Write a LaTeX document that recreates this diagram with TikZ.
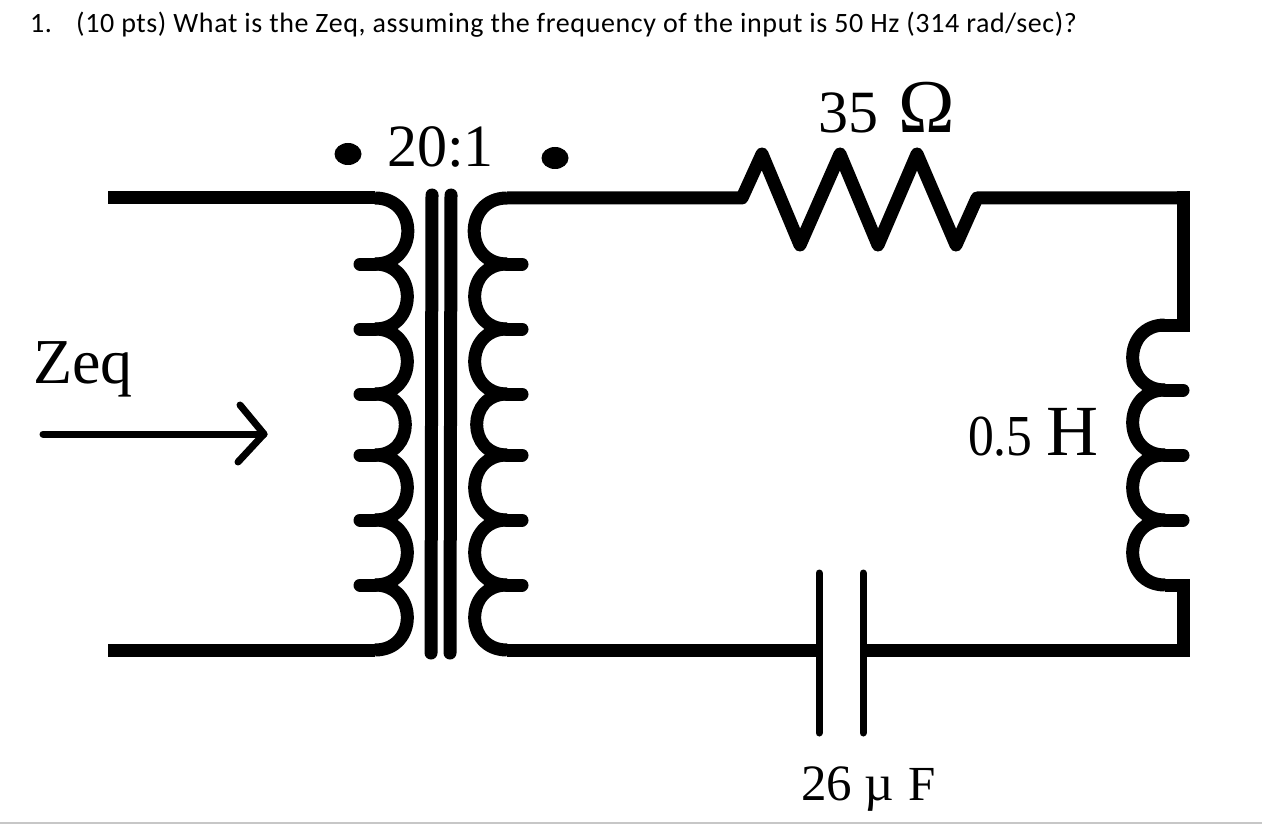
\documentclass[tikz,border=0pt]{standalone}
\usepackage{fontspec}
\setmainfont{Liberation Serif}
\newfontfamily\titlefont[LetterSpace=2.2]{Carlito}
\usetikzlibrary{shapes.geometric}
\tikzset{
	wire/.style={line width=13pt},
	tip/.style={line width=13pt, line cap=round},
	bump/.style={out=0, in=0, looseness=1.7},
	rbump/.style={out=180, in=180, looseness=1.7},
	plate/.style={line width=7pt, line cap=round},
	core/.style={line width=13pt, line cap=round},
	pointer/.style={line width=7pt, line cap=round},
	dotmark/.style={ellipse, fill=black, inner sep=0pt, minimum width=27pt, minimum height=22pt},
	label/.style={inner sep=0pt, anchor=base west},
	titletext/.style={inner sep=0pt, anchor=base west, font=\titlefont\fontsize{28}{30}\selectfont}
}

\begin{document}
\begin{tikzpicture}[x=1pt, y=1pt]
	\useasboundingbox (0, -824) rectangle (1262, 0);

	% points of the left coil
	\coordinate (P0) at (375, -198);
	\coordinate (P1) at (375, -264);
	\coordinate (P2) at (375, -329);
	\coordinate (P3) at (375, -394);
	\coordinate (P4) at (375, -455);
	\coordinate (P5) at (375, -520);
	\coordinate (P6) at (375, -585);
	\coordinate (P7) at (375, -650);

	% points of the right coil
	\coordinate (S0) at (507, -198);
	\coordinate (S1) at (507, -264);
	\coordinate (S2) at (507, -329);
	\coordinate (S3) at (507, -394);
	\coordinate (S4) at (507, -455);
	\coordinate (S5) at (507, -520);
	\coordinate (S6) at (507, -585);
	\coordinate (S7) at (507, -650);

	% points of the load coil
	\coordinate (L0) at (1165, -325);
	\coordinate (L1) at (1165, -390);
	\coordinate (L2) at (1165, -455);
	\coordinate (L3) at (1165, -520);
	\coordinate (L4) at (1165, -585);

	% loose ends and corners
	\coordinate (inTop) at (108, -198);
	\coordinate (inBot) at (108, -650);
	\coordinate (cornerTop) at (1183, -198);
	\coordinate (cornerBot) at (1183, -650);
	\coordinate (capLeft) at (819, -650);
	\coordinate (capRight) at (863, -650);
	\coordinate (resIn) at (742, -198);
	\coordinate (resOut) at (977, -198);

	% left coil
	\draw[wire] (inTop) -- (P0);
	\draw[wire] (P0) to[bump] (P1);
	\draw[wire] (P1) to[bump] (P2);
	\draw[wire] (P2) to[bump] (P3);
	\draw[wire] (P3) to[bump] (P4);
	\draw[wire] (P4) to[bump] (P5);
	\draw[wire] (P5) to[bump] (P6);
	\draw[wire] (P6) to[bump] (P7);
	\draw[wire] (P7) -- (inBot);
	\draw[tip] (P1) -- ++(-15, 0);
	\draw[tip] (P2) -- ++(-15, 0);
	\draw[tip] (P3) -- ++(-15, 0);
	\draw[tip] (P4) -- ++(-15, 0);
	\draw[tip] (P5) -- ++(-15, 0);
	\draw[tip] (P6) -- ++(-15, 0);

	% iron core
	\draw[core] (432, -195) -- (431, -653);
	\draw[core] (451, -195) -- (450, -653);

	% right coil
	\draw[wire] (S0) to[rbump] (S1);
	\draw[wire] (S1) to[rbump] (S2);
	\draw[wire] (S2) to[rbump] (S3);
	\draw[wire] (S3) to[rbump] (S4);
	\draw[wire] (S4) to[rbump] (S5);
	\draw[wire] (S5) to[rbump] (S6);
	\draw[wire] (S6) to[rbump] (S7);
	\draw[tip] (S1) -- ++(15, 0);
	\draw[tip] (S2) -- ++(15, 0);
	\draw[tip] (S3) -- ++(15, 0);
	\draw[tip] (S4) -- ++(15, 0);
	\draw[tip] (S5) -- ++(15, 0);
	\draw[tip] (S6) -- ++(15, 0);

	% resistor and top wire
	\draw[wire, line join=round] (S0) -- (resIn) -- (762, -154) -- (800, -245) -- (840, -154)
		-- (878, -245) -- (917, -154) -- (956, -245) -- (resOut) -- (cornerTop);
	\draw[wire, line cap=rect] (cornerTop) -- (1183, -325) -- (L0);

	% load coil
	\draw[wire] (L0) to[rbump] (L1);
	\draw[wire] (L1) to[rbump] (L2);
	\draw[wire] (L2) to[rbump] (L3);
	\draw[wire] (L3) to[rbump] (L4);
	\draw[tip] (L1) -- ++(18, 0);
	\draw[tip] (L2) -- ++(18, 0);
	\draw[tip] (L3) -- ++(18, 0);
	\draw[wire] (L4) -- (1183, -585) -- (cornerBot) -- (capRight);
	\fill (1176.5, -578.5) rectangle (1189.5, -591.5);
	\fill (1176.5, -643.5) rectangle (1189.5, -656.5);
	\fill (1176.5, -191.5) rectangle (1189.5, -204.5);

	% capacitor
	\draw[wire] (S7) -- (capLeft);
	\draw[plate] (819, -573) -- (819, -733);
	\draw[plate] (863, -573) -- (863, -733);

	% arrow
	\coordinate (arrowA) at (43, -434);
	\coordinate (arrowB) at (264, -434);
	\draw[pointer] (arrowA) -- (arrowB);
	\draw[pointer, line join=round] (240, -405) -- (arrowB) -- (238, -462);

	% dots
	\node[dotmark] (dotA) at (348, -154) {};
	\node[dotmark] (dotB) at (555, -158) {};

	% labels
	\node[titletext] (num) at (30, -33) {1.};
	\node[titletext] (question) at (76, -33) {(10 pts) What is the Zeq, assuming the frequency of the input is 50 Hz (314 rad/sec)?};
	\node[label, font=\fontsize{60}{60}\selectfont] (ratio) at (387, -167) {20:1};
	\node[label, font=\fontsize{60}{60}\selectfont] (res) at (818, -133) {35};
	\node[label, font=\fontsize{76}{76}\selectfont] (ohm) at (898, -133) {Ω};
	\node[label, font=\fontsize{64}{64}\selectfont] (zeq) at (33, -383) {Zeq};
	\node[label, font=\fontsize{58}{58}\selectfont, xscale=0.89, transform shape] (ind) at (968, -455) {0.5};
	\node[label, font=\fontsize{72}{72}\selectfont] (henry) at (1046, -455) {H};
	\node[label, font=\fontsize{51}{51}\selectfont] (cap) at (801, -800) {26 µ};
	\node[label, font=\fontsize{49}{49}\selectfont] (farad) at (908, -800) {F};

	% bottom rule
	\fill[black!22] (0, -824) rectangle (1262, -822);
\end{tikzpicture}
\end{document}
